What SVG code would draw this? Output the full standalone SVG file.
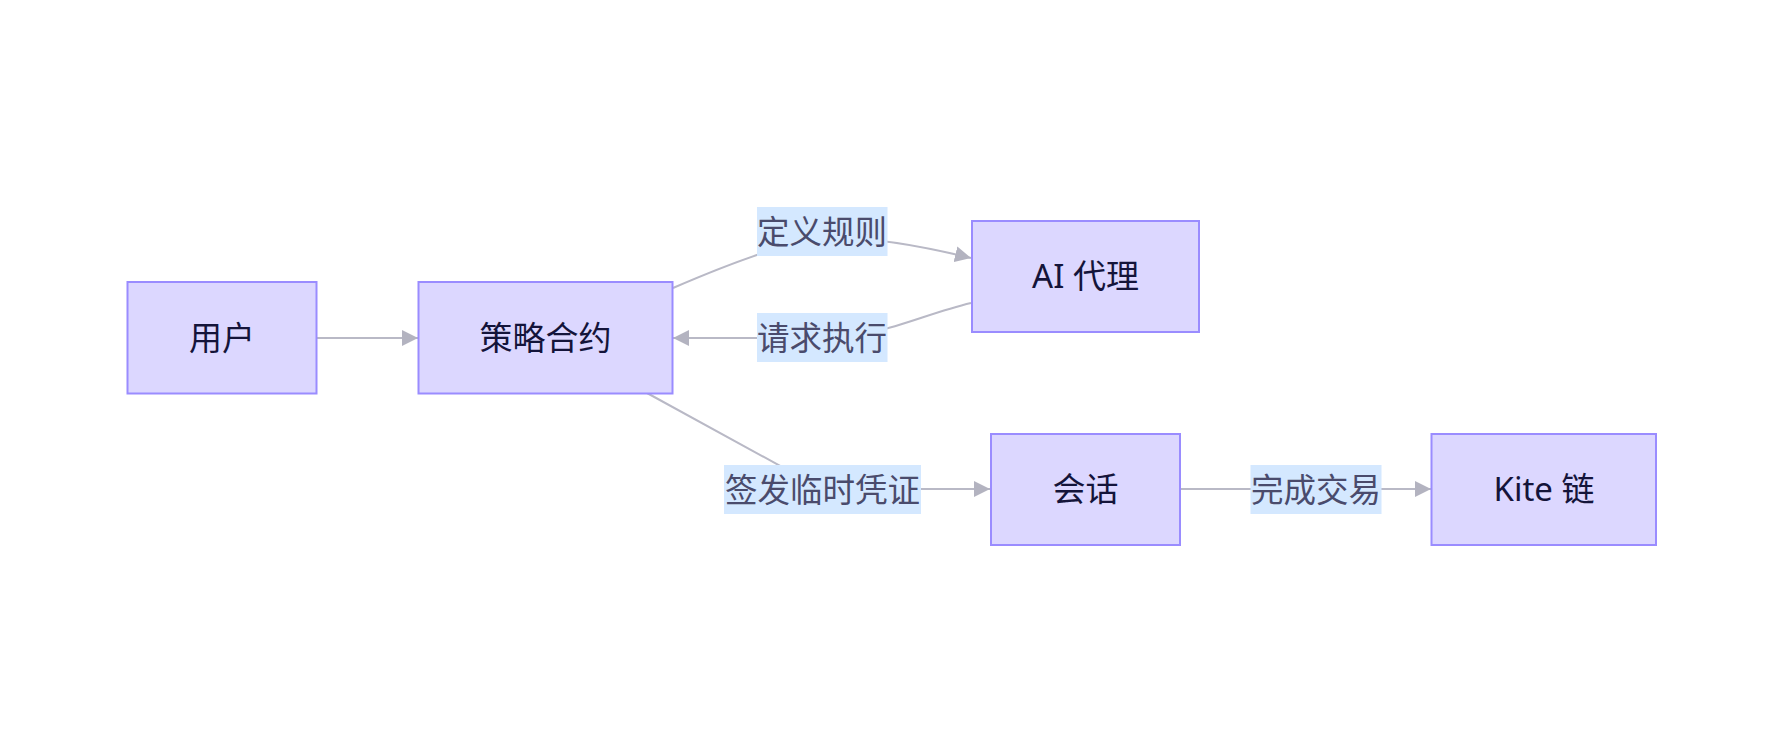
<svg xmlns="http://www.w3.org/2000/svg" width="1784" height="752" viewBox="0 0 1784 752">
<style>
.node rect{fill:#dcd7ff;stroke:#9a8cff;stroke-width:2}
.node text{font-family:"Noto Sans","Noto Sans CJK SC",sans-serif;font-size:33px;fill:#14143a;text-anchor:middle;dominant-baseline:central}
.edge{fill:none;stroke:#b9b9c6;stroke-width:2}
.elabel rect{fill:#d4e8ff}
.elabel text{font-family:"Noto Sans CJK SC","Noto Sans",sans-serif;font-size:32.5px;fill:#4a4b6c;text-anchor:middle;dominant-baseline:central}
</style>
<defs>
<marker id="arrow" viewBox="0 0 10 10" refX="10" refY="5" markerUnits="userSpaceOnUse" markerWidth="16" markerHeight="16" orient="auto">
<path d="M0,0 L10,5 L0,10 z" fill="#b3b3c0"/>
</marker>
</defs>
<rect width="1784" height="752" fill="#ffffff"/>
<g id="connectors">
<path class="edge" d="M317,338 L418,338" marker-end="url(#arrow)"/>
<path class="edge" d="M673,288 C710,272 760,252 800,242 S905,242 971,258" marker-end="url(#arrow)"/>
<path class="edge" d="M971,303 C920,315 880,338 822,338 L673,338" marker-end="url(#arrow)"/>
<path class="edge" d="M647,393 Q755,452 795,474 Q815,489 840,489 L990,489" marker-end="url(#arrow)"/>
<path class="edge" d="M1180,489 L1431,489" marker-end="url(#arrow)"/>
</g>
<g id="edge-labels">
<g class="elabel" id="label-define"><rect x="757" y="207" width="130.5" height="49"/><text x="822" y="229.5">定义规则</text></g>
<g class="elabel" id="label-request"><rect x="757" y="313" width="130.5" height="49"/><text x="822" y="335.5">请求执行</text></g>
<g class="elabel" id="label-issue"><rect x="724" y="465" width="197" height="49"/><text x="822.5" y="487.5">签发临时凭证</text></g>
<g class="elabel" id="label-complete"><rect x="1250.5" y="465" width="131" height="49"/><text x="1316" y="487.5">完成交易</text></g>
</g>
<g class="node" id="node-user"><rect x="127.5" y="282" width="189" height="111.5"/><text x="222" y="337">用户</text></g>
<g class="node" id="node-policy"><rect x="418.5" y="282" width="254" height="111.5"/><text x="545.5" y="337">策略合约</text></g>
<g class="node" id="node-agent"><rect x="972" y="221" width="227" height="111"/><text x="1085.5" y="275.5">AI 代理</text></g>
<g class="node" id="node-session"><rect x="991" y="434" width="189" height="111"/><text x="1085.5" y="488.5">会话</text></g>
<g class="node" id="node-kite"><rect x="1431.5" y="434" width="224.5" height="111"/><text x="1544" y="488.5">Kite 链</text></g>
</svg>
